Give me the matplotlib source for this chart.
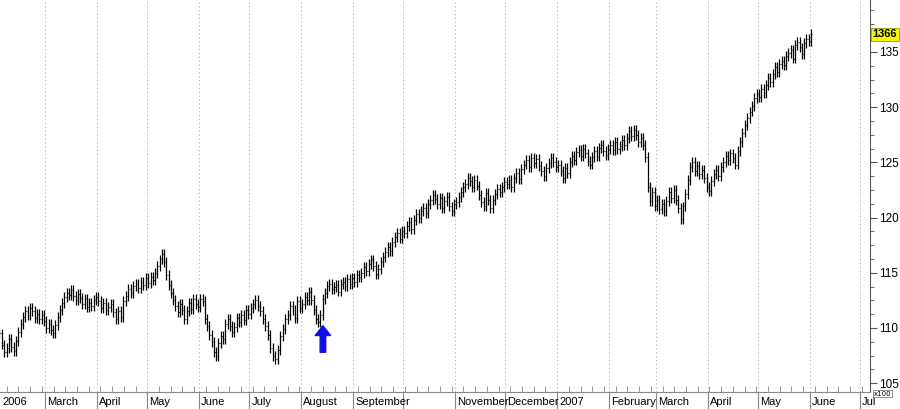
import matplotlib
matplotlib.use("Agg")
import matplotlib.pyplot as plt
import matplotlib.dates as mdates
import pandas as pd
import numpy as np

months = ["2006-02","2006-03","2006-04","2006-05","2006-06","2006-07","2006-08","2006-09",
          "2006-10","2006-11","2006-12","2007-01","2007-02","2007-03","2007-04","2007-05","2007-06"]
closes = [
 [109.5,108.5,107.8,108.2,109.0,108.3,107.9,108.8,109.6,110.4,111.0,111.5,111.2,111.8,111.5,110.9,111.3,110.8,111.2,110.6],
 [110.0,110.4,109.8,109.5,110.3,111.0,111.6,112.3,112.8,113.2,113.0,113.4,112.9,112.5,113.1,112.7,112.2,112.6,111.9,112.3,112.0,112.5,112.8],
 [112.4,111.8,112.3,111.6,111.9,112.2,111.4,110.8,111.5,111.0,112.4,112.9,113.5,113.2,113.8,114.0,113.6,114.2,113.9,114.5],
 [114.1,114.6,114.3,115.0,115.6,116.2,116.7,116.0,114.8,113.9,113.2,112.5,112.0,111.4,112.2,111.6,110.8,111.5,112.3,111.7,112.6,112.2,111.9],
 [112.6,112.4,110.8,110.2,109.4,108.7,107.8,107.5,108.6,109.3,109.0,110.4,110.8,110.2,109.6,110.1,110.9,110.5,111.2,110.7,111.6,111.3],
 [111.8,112.2,112.5,112.0,111.5,110.8,110.2,109.4,108.2,107.5,107.2,108.0,109.3,109.9,110.8,111.2,112.0,111.6,110.9,112.4,111.8],
 [112.2,112.8,112.5,113.3,112.5,111.6,110.8,110.5,111.2,112.6,113.2,113.8,114.0,113.5,113.7,113.9,113.3,114.0,114.2,113.8,114.4,114.0,114.5],
 [114.2,114.8,114.6,115.0,115.5,115.2,115.8,116.2,115.6,114.9,115.3,116.0,116.4,116.9,117.3,117.0,117.8,118.2,118.6,118.1,118.8],
 [118.6,119.2,119.6,119.0,119.8,120.3,120.0,120.6,120.9,120.4,121.2,121.6,122.0,121.7,121.2,121.8,120.9,121.5,121.9,121.0,120.6,121.2],
 [121.4,121.9,122.3,122.8,123.0,123.6,123.3,122.8,123.4,122.9,122.0,121.4,121.0,122.2,121.6,120.9,121.6,122.1,122.6,122.3,122.8,123.2],
 [123.0,123.4,122.8,123.6,124.0,123.5,124.4,124.8,125.2,124.6,125.4,124.9,125.3,124.7,124.2,123.8,124.5,124.9,125.4,125.0,124.6],
 [124.8,124.2,123.6,124.5,124.0,125.0,125.6,125.2,125.9,126.1,125.6,126.2,125.8,125.1,124.8,125.5,126.0,125.6,126.3,126.6,126.0,125.7,126.2],
 [126.6,126.1,126.8,126.2,126.5,127.0,126.6,127.2,127.8,127.4,127.9,127.5,126.8,127.2,126.6,125.5,122.8,121.5,122.3,121.0],
 [121.6,120.8,121.2,120.6,121.5,122.3,121.8,122.5,121.6,120.9,119.9,121.0,122.1,123.4,124.6,125.0,124.2,124.7,123.9,124.3,123.6,122.8],
 [122.4,123.3,123.9,124.3,123.8,124.6,125.0,125.6,125.2,125.8,125.4,124.8,126.0,126.8,127.7,128.4,129.0,129.6,130.1,130.8,131.2],
 [130.9,131.6,131.3,132.0,132.6,132.3,133.0,133.6,133.2,133.9,134.2,133.8,134.6,134.9,135.2,134.4,135.6,135.9,135.4,134.8,135.8,136.2,136.0],
 [136.6],
]
month_labels = ["2006","March","April","May","June","July","August","September","",
                "November","December","2007","February","March","April","May","June","Jul"]
last_label = "1366"
yticks = [105,110,115,120,125,130,135]

fig = plt.figure(figsize=(9,4.09), dpi=100)
ax = fig.add_axes([0.0, 17/409, 870/900, 392/409])

xs, cl = [], []
for m, vals in zip(months, closes):
    s = mdates.date2num(pd.Timestamp(m+"-01"))
    e = mdates.date2num(pd.Timestamp(m+"-01") + pd.offsets.MonthBegin(1))
    if m == "2007-06":
        e = s + 1.4*len(vals)
    n = len(vals)
    for i, v in enumerate(vals):
        xs.append(s + (i+0.5)/n*(e-s)); cl.append(v)
xs = np.array(xs); cl = np.array(cl)
op = np.r_[cl[0], cl[:-1]]
hi = np.maximum(op, cl) + 0.45
lo = np.minimum(op, cl) - 0.45
ax.vlines(xs, lo, hi, color="black", lw=0.9)
ax.hlines(op, xs-0.5, xs, color="black", lw=0.7)
ax.hlines(cl, xs, xs+0.5, color="black", lw=0.7)

x0 = mdates.date2num(pd.Timestamp("2006-02-01")) + 1
x1 = x0 + (mdates.date2num(pd.Timestamp("2007-07-01"))-x0)*870/860

mstarts = [mdates.date2num(pd.Timestamp(m+"-01")) for m in months] + [mdates.date2num(pd.Timestamp("2007-07-01"))]
for s in mstarts[1:]:
    ax.axvline(s, color="#bbbbbb", ls=(0,(1.5,2.5)), lw=0.7, zorder=0)
ax.set_xticks(mstarts)
ax.set_xticklabels([])
ax.tick_params(axis="x", which="major", direction="out", length=17, color="#888888")
wk = mdates.date2num(pd.date_range("2006-02-06", "2007-07-20", freq="W-MON"))
ax.set_xticks(wk, minor=True)
ax.tick_params(axis="x", which="minor", direction="in", length=4, color="#888888")
ax.set_xlim(x0, x1)
ax.set_ylim(104.2, 139.7)
for s, lab in zip(mstarts, month_labels):
    ax.text(max(s, x0)+1.2, -0.012, lab, transform=ax.get_xaxis_transform(), ha="left", va="top",
            fontsize=8, family="Liberation Sans", clip_on=False)

ax.yaxis.tick_right()
ax.set_yticks(yticks)
ax.set_yticklabels([str(t) for t in yticks], fontsize=8.5, family="Liberation Sans")
ax.set_yticks(np.arange(105, 140, 1.25), minor=True)
ax.tick_params(axis="y", which="major", length=5, color="#555555", pad=1.5)
ax.tick_params(axis="y", which="minor", length=3, color="#555555")
for sp in ["top", "left"]:
    ax.spines[sp].set_visible(False)
ax.spines["right"].set_color("#555555")
ax.spines["bottom"].set_color("#888888")

ax.text(1.003, cl[-1], last_label, transform=ax.get_yaxis_transform(), ha="left", va="center", fontsize=8,
        fontweight="bold", family="Liberation Sans",
        bbox=dict(boxstyle="square,pad=0.15", fc="#f5f500", ec="#999900", lw=0.6))
ax.text(1.004, -0.012, "x100", transform=ax.transAxes, ha="left", va="bottom", fontsize=5,
        bbox=dict(boxstyle="square,pad=0.1", fc="white", ec="#666666", lw=0.5))
ax.annotate("", xy=(mdates.date2num(pd.Timestamp("2006-08-14")), 110.2),
            xytext=(mdates.date2num(pd.Timestamp("2006-08-14")), 107.8),
            arrowprops=dict(facecolor="#1010e0", edgecolor="#1010e0", width=4, headwidth=11, headlength=7))
fig.savefig("out.png", dpi=100)
